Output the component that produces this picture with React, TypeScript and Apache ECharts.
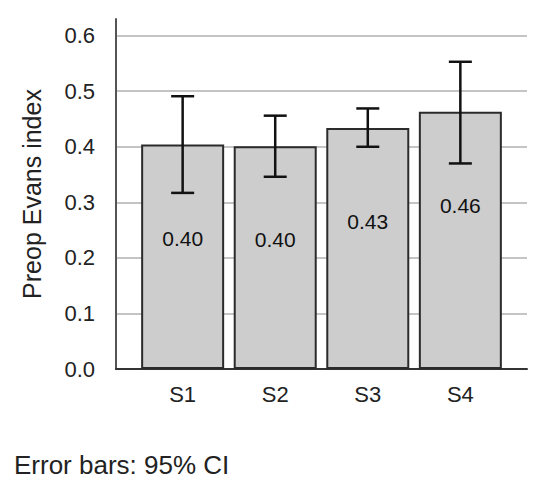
import React, { useEffect, useRef } from "react";
import * as echarts from "echarts";

const categories = ["S1", "S2", "S3", "S4"];
const positions = [1, 2, 3, 4];
const means = [0.404, 0.401, 0.434, 0.463];
const ciLow = [0.317, 0.346, 0.4, 0.37];
const ciHigh = [0.491, 0.456, 0.469, 0.553];
const yTicks = [0, 0.1, 0.2, 0.3, 0.4, 0.5, 0.6];
const yAxisTitle = "Preop Evans index";
const footnote = "Error bars: 95% CI";

const FONT = "'Liberation Sans', Arial, sans-serif";

export default function App() {
  const ref = useRef<HTMLDivElement>(null);
  useEffect(() => {
    const chart = echarts.init(ref.current!, null, { renderer: "svg" });
    chart.setOption({
      animation: false,
      backgroundColor: "#ffffff",
      textStyle: { fontFamily: FONT },
      title: {
        text: footnote,
        left: 14,
        top: 452,
        padding: 0,
        textStyle: { fontSize: 26, fontWeight: "normal", color: "#222", fontFamily: FONT },
      },
      grid: { left: 116, right: 23, top: 19, bottom: 123, containLabel: false, outerBoundsMode: "none" },
      xAxis: {
        type: "value",
        min: 0.28,
        max: 4.72,
        axisLine: { show: true, lineStyle: { color: "#333", width: 2 } },
        axisTick: { show: false },
        splitLine: { show: false },
        axisLabel: {
          customValues: positions,
          formatter: (v: number) => categories[positions.indexOf(v)] ?? "",
          fontSize: 22,
          color: "#222",
          margin: 14,
          fontFamily: FONT,
        },
      },
      yAxis: {
        type: "value",
        min: 0,
        max: 0.63,
        name: yAxisTitle,
        nameLocation: "middle",
        nameGap: 72,
        nameTextStyle: { fontSize: 25, color: "#222", fontFamily: FONT },
        axisLine: { show: true, lineStyle: { color: "#555", width: 2 } },
        axisTick: { show: false, customValues: yTicks },
        axisLabel: {
          customValues: yTicks,
          formatter: (v: number) => v.toFixed(1),
          fontSize: 22,
          color: "#222",
          margin: 21,
          fontFamily: FONT,
        },
        splitLine: { show: true, lineStyle: { color: "#c4c4c4", width: 2 } },
      },
      series: [
        {
          type: "bar",
          data: positions.map((x, i) => [x, means[i]]),
          barWidth: 83,
          itemStyle: { color: "#cdcdcd", borderColor: "#2b2b2b", borderWidth: 2 },
          label: {
            show: true,
            position: "insideTop",
            distance: 83,
            formatter: (p: any) => means[p.dataIndex].toFixed(2),
            fontSize: 21,
            color: "#111",
            fontFamily: FONT,
          },
        },
        {
          type: "custom",
          z: 10,
          data: positions.map((x, i) => [x, ciLow[i], ciHigh[i]]),
          encode: { x: 0, y: [1, 2] },
          renderItem: (params: any, api: any) => {
            const x = api.value(0);
            const lo = api.coord([x, api.value(1)]);
            const hi = api.coord([x, api.value(2)]);
            const hw = 11.5;
            const style = { stroke: "#111", lineWidth: 2.5 };
            return {
              type: "group",
              children: [
                { type: "line", shape: { x1: lo[0], y1: lo[1], x2: hi[0], y2: hi[1] }, style },
                { type: "line", shape: { x1: hi[0] - hw, y1: hi[1], x2: hi[0] + hw, y2: hi[1] }, style },
                { type: "line", shape: { x1: lo[0] - hw, y1: lo[1], x2: lo[0] + hw, y2: lo[1] }, style },
              ],
            };
          },
        },
      ],
    });
    return () => chart.dispose();
  }, []);
  return <div ref={ref} style={{ position: "absolute", left: 0, top: 0, width: 550, height: 492 }} />;
}
